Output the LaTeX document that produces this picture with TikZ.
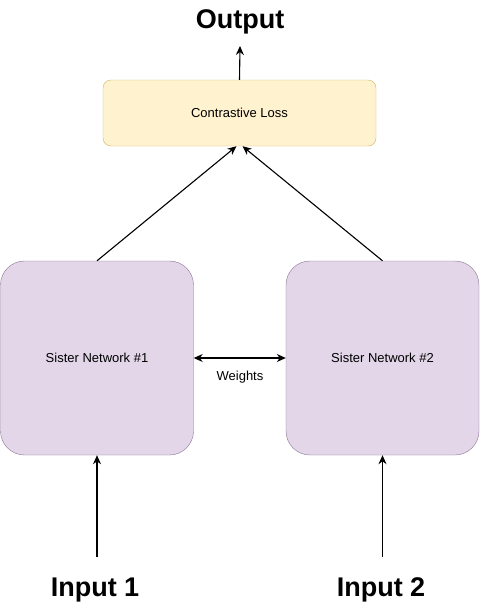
\documentclass[tikz,border=0pt]{standalone}
\usepackage{fontspec}
\setmainfont{Liberation Sans}
\usepackage{xcolor}
\usetikzlibrary{shapes,arrows.meta,positioning,calc}
\definecolor{lossfill}{RGB}{255,242,206}
\definecolor{lossdraw}{RGB}{205,180,110}
\definecolor{sisterfill}{RGB}{226,214,232}
\definecolor{sisterdraw}{RGB}{140,115,150}

\tikzset{
    lossbox/.style={draw=lossdraw, fill=lossfill, rounded corners=8pt, minimum width=273pt, minimum height=66pt, font=\fontsize{13}{15}\selectfont},
    sisterbox/.style={draw=sisterdraw, fill=sisterfill, rounded corners=24pt, minimum width=193pt, minimum height=194pt, font=\fontsize{13}{15}\selectfont},
    bigtext/.style={font=\fontsize{27}{30}\selectfont\bfseries},
    conn/.style={-{Stealth[length=9pt,width=8pt]}, line width=1.1pt}
}

\begin{document}
\begin{tikzpicture}[x=1pt, y=-1pt]
        \useasboundingbox (0,0) rectangle (480,616);
        % nodes
        \node[lossbox] (loss) at (239.5,113) {Contrastive Loss};
        \node[bigtext] (output) at (240,22) {Output};
        \node[sisterbox] (sisterA) at (97,358) {Sister Network \#1};
        \node[sisterbox] (sisterB) at (382.5,358) {Sister Network \#2};
        \node[font=\fontsize{13}{15}\selectfont] (weights) at (240,377) {Weights};
        \node[bigtext] (inputA) at (95,590) {Input 1};
        \node[bigtext] (inputB) at (381,590) {Input 2};
        \coordinate (startA) at (97,557);
        \coordinate (startB) at (382.5,557);
        \coordinate (outtop) at (240,46);
        % connectors
        \draw[conn] (loss.north) -- (outtop);
        \draw[conn] (sisterA.north) -- ($(loss.south)+(-3,0)$);
        \draw[conn] (sisterB.north) -- ($(loss.south)+(3,0)$);
        \draw[conn, {Stealth[length=9pt,width=8pt]}-{Stealth[length=9pt,width=8pt]}] (sisterA.east) -- (sisterB.west);
        \draw[conn] (startA) -- (sisterA.south);
        \draw[conn] (startB) -- (sisterB.south);
    \end{tikzpicture}
\end{document}
